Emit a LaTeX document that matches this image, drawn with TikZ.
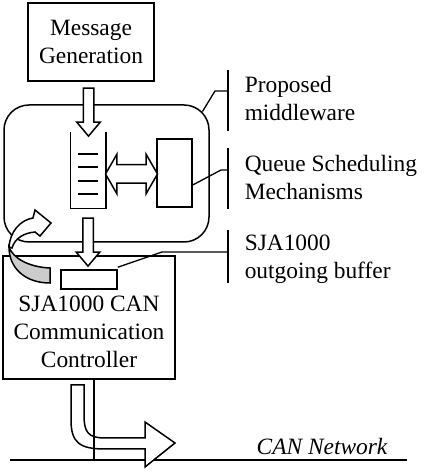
\documentclass[tikz,border=0pt]{standalone}
\usepackage{fontspec}
\setmainfont{Liberation Serif}
\usetikzlibrary{shapes.arrows,calc}

\begin{document}
\begin{tikzpicture}[x=1pt,y=1pt,line width=1.5pt]
	\tikzstyle{every node}+=[inner sep=0pt, font=\fontsize{23.4}{28}\selectfont]
	\tikzstyle{box}=[draw, fill=white]
	\tikzstyle{lbl}=[anchor=west, align=left]
	\tikzstyle{leader}=[line width=1.3pt]
	\tikzstyle{downarrow}=[draw, fill=white, single arrow, rotate=-90, single arrow head extend=6.5pt, single arrow tip angle=80, inner ysep=4.5pt, inner xsep=0pt, minimum height=48pt]
	\tikzstyle{dblarrow}=[draw, fill=white, double arrow, double arrow head extend=10.5pt, double arrow tip angle=120, inner ysep=8.5pt, inner xsep=0pt, minimum height=52pt]
	\useasboundingbox (0,0) rectangle (442,476);
	% upper part
	\node[box, minimum width=126pt, minimum height=78pt, align=center] (msg) at (91,434) {Message\\Generation};
	\node[draw, rounded corners=25pt, minimum width=205pt, minimum height=137pt] (mw) at (106.5,302.5) {};
	\node[minimum width=34pt, minimum height=75pt] (queue) at (88,305.5) {};
	\draw (queue.north west) -- (queue.south west) -- (queue.south east) -- (queue.north east);
	\foreach \y in {322,309,295,282}
		\draw (78,\y) -- (98,\y);
	\node[box, minimum width=35pt, minimum height=68pt] (sched) at (174.5,303) {};
	\node[dblarrow] (swap) at (131.5,302) {};
	\node[downarrow] (in) at (88.5,367) {};
	% controller
	\node[box, minimum width=172pt, minimum height=123pt] (ctrl) at (89,158.5) {};
	\node[align=center] (ctrltxt) at (89,144) {SJA1000 CAN\\Communication\\Controller};
	\node[box, minimum width=56pt, minimum height=19pt] (buf) at (89,196.5) {};
	\node[downarrow] (out) at (88,237) {};
	% labels
	\node[lbl] (lblmw) at (244,377) {Proposed\\middleware};
	\node[lbl] (lblqs) at (244,298.5) {Queue Scheduling\\Mechanisms};
	\node[lbl] (lblbuf) at (244,217) {SJA1000\\outgoing buffer};
	\coordinate (tmw) at (228,385);
	\coordinate (tqs) at (228,306);
	\coordinate (tbuf) at (228,224);
	\draw[leader] (228,406) -- (228,345);
	\draw[leader] (228,328) -- (228,267);
	\draw[leader] (228,246) -- (228,193);
	\draw[leader] ($(mw.north east)+(-7.3,-7.3)$) -- (215,385) -- (tmw);
	\draw[leader] ($(sched.east)+(0,-12)$) -- (221,306) -- (tqs);
	\draw[leader] ($(buf.north east)+(0,2)$) -- (162,224) -- (tbuf);
	% feedback arrow
	\draw[fill=gray!40] (50,208) -- (50,193) .. controls (25,193) and (9,208) .. (9,229)
		.. controls (13,218) and (28,209) .. (50,208) -- cycle;
	\draw[fill=white] (9,229) .. controls (10,244) and (20,256) .. (33,258) -- (35,266) -- (51,253)
		-- (40,240) -- (35,244) .. controls (24,243) and (15,238) .. (12,228) -- cycle;
	% bus
	\coordinate (busL) at (10,16);
	\coordinate (busR) at (407,16);
	\coordinate (tap) at (94,16);
	\draw (busL) -- (busR);
	\draw[fill=white] (71,91) -- (71,56) .. controls (71,33) and (80,27) .. (105,27) -- (145,27) -- (145,9)
		-- (175,33) -- (145,54) -- (145,38) -- (105,38) .. controls (88,38) and (84,44) .. (84,61) -- (84,91) -- cycle;
	\draw ($(ctrl.south)+(5,0)$) -- (tap);
	\node[anchor=base, font=\fontsize{23.4}{28}\selectfont\itshape] (can) at (322,21) {CAN Network};
\end{tikzpicture}
\end{document}
